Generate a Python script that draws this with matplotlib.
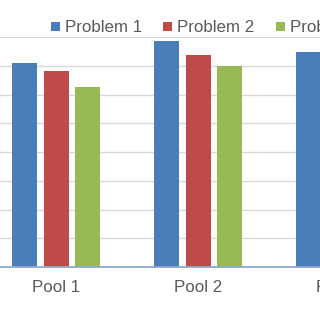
import matplotlib
matplotlib.use("Agg")
import matplotlib.pyplot as plt
import numpy as np

# data
pools = ["Pool 1", "Pool 2", "Pool 3"]
problems = ["Problem 1", "Problem 2", "Problem 3"]
values = {
    "Problem 1": [7.1, 7.87, 7.49],
    "Problem 2": [6.81, 7.37, 7.0],
    "Problem 3": [6.27, 6.99, 6.6],
}
colors = ["#4A7EBB", "#BE4B48", "#98B954"]

plt.rcParams['font.family'] = ['Liberation Sans', 'DejaVu Sans']

fig = plt.figure(figsize=(3.2, 3.2), dpi=100)
# axes runs past the right edge (cropped original), 360px wide in a 320px figure
ax = fig.add_axes([0, 1 - 267 / 320, 360 / 320, (267 - 37) / 320])

x = np.arange(len(pools))
width = 0.174
step = 0.222
for k, name in enumerate(problems):
    ax.bar(x + (k - 1) * step, values[name], width, color=colors[k],
           label=name, zorder=3)

ax.set_yticks(np.arange(0, 9, 1))
ax.yaxis.grid(True, color="#D9D9D9", linewidth=1, zorder=0)
ax.tick_params(axis="y", left=False, labelleft=False)
ax.set_xticks(x)
ax.set_xticklabels(pools)
ax.tick_params(axis="x", length=0, pad=9, labelsize=12.2, labelcolor="#595959")
# limits last, set_xticks would widen them again
ax.set_xlim(-56.2 / 142, (360 - 56.2) / 142)
ax.set_ylim(0, 8)

for side in ["top", "left", "right"]:
    ax.spines[side].set_visible(False)
ax.spines["bottom"].set_color("#8EA9CF")
ax.spines["bottom"].set_linewidth(1.3)
ax.spines["bottom"].set_zorder(4)

leg = fig.legend(loc="center left", bbox_to_anchor=(50.7 / 320, 1 - 28 / 320),
                 ncol=3, frameon=False, fontsize=12.2, handlelength=0.53,
                 handleheight=0.53, handletextpad=0.3, columnspacing=1.25,
                 borderpad=0, borderaxespad=0)
for t in leg.get_texts():
    t.set_color("#595959")

fig.savefig("out.png", dpi=100)
